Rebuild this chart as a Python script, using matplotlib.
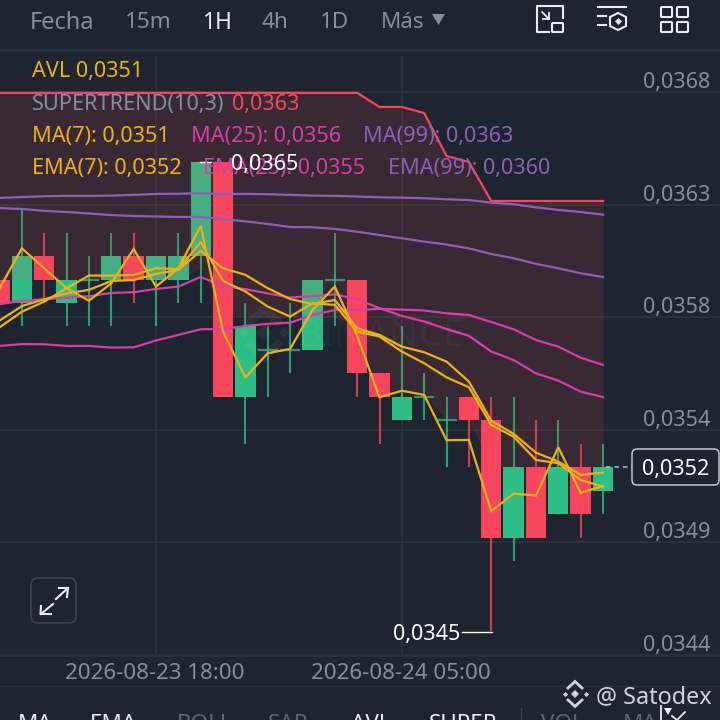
import numpy as np
import matplotlib
matplotlib.use("Agg")
import matplotlib.pyplot as plt
from matplotlib.patches import FancyBboxPatch, Polygon

# Candle data (1H)
opens = [0.0360, 0.0359, 0.0361, 0.0359, 0.0360, 0.0360, 0.0361, 0.0360, 0.0360, 0.0361, 0.0365, 0.0355, 0.0357, 0.0357,
         0.0357, 0.0360, 0.0360, 0.0356, 0.0354, 0.0355, 0.0354, 0.0355, 0.0354, 0.0349, 0.0352, 0.0350, 0.0352, 0.0351]
closes = [0.0359, 0.0361, 0.0360, 0.0360, 0.0360, 0.0361, 0.0360, 0.0361, 0.0361, 0.0365, 0.0355, 0.0358, 0.0357, 0.0357,
          0.0360, 0.0360, 0.0356, 0.0355, 0.0355, 0.0355, 0.0354, 0.0354, 0.0349, 0.0352, 0.0349, 0.0352, 0.0350, 0.0352]
highs = [0.0360, 0.0363, 0.0362, 0.0362, 0.0361, 0.0362, 0.0362, 0.0361, 0.0362, 0.0365, 0.0365, 0.0359, 0.0358, 0.0359,
         0.0360, 0.0362, 0.0360, 0.0356, 0.0358, 0.0356, 0.0355, 0.0355, 0.0355, 0.0355, 0.0354, 0.0354, 0.0353, 0.0353]
lows = [0.0359, 0.0358, 0.0359, 0.0358, 0.0358, 0.0358, 0.0359, 0.0358, 0.0359, 0.0359, 0.0355, 0.0353, 0.0355, 0.0356,
        0.0357, 0.0358, 0.0355, 0.0353, 0.0354, 0.0354, 0.0352, 0.0352, 0.0345, 0.0348, 0.0349, 0.0350, 0.0349, 0.0350]

# Indicators
avl = [359.63, 361.33, 360.48, 359.63, 359.10, 359.84, 361.30, 359.70, 360.48, 362.29, 357.78, 355.83, 356.86, 357.04,
       358.70, 359.70, 357.60, 354.98, 355.26, 355.08, 353.15, 353.16, 350.13, 350.87, 350.79, 352.85, 350.91, 351.20]
ema7 = [358.25, 358.87, 359.16, 359.41, 359.56, 359.94, 359.98, 360.24, 360.41, 361.22, 360.48, 360.20, 359.63, 359.17,
        358.96, 359.13, 357.92, 357.64, 357.14, 356.90, 356.50, 355.65, 353.98, 353.42, 352.62, 352.24, 351.67, 351.77]
ma7 = [357.96, 358.63, 359.06, 359.63, 360.17, 360.17, 360.20, 360.48, 360.45, 361.59, 359.94, 359.49, 358.85, 358.42,
       358.99, 358.92, 357.78, 357.57, 356.93, 356.43, 355.83, 355.41, 353.80, 353.30, 352.31, 352.17, 351.45, 351.17]
ma25 = [357.17, 357.25, 357.24, 357.17, 357.17, 357.10, 357.11, 357.40, 357.64, 357.88, 357.89, 358.02, 358.11, 358.16,
        358.49, 358.70, 358.70, 358.75, 358.72, 358.68, 358.56, 358.49, 358.19, 357.88, 357.42, 357.14, 356.67, 356.36]
ema25 = [358.95, 359.09, 359.16, 359.23, 359.29, 359.43, 359.46, 359.60, 359.70, 360.11, 359.73, 359.59, 359.41, 359.23,
         359.30, 359.37, 359.16, 358.78, 358.45, 358.21, 357.89, 357.60, 356.93, 356.57, 356.00, 355.69, 355.22, 354.99]
ma99 = [363.48, 363.52, 363.55, 363.57, 363.57, 363.58, 363.61, 363.65, 363.66, 363.68, 363.65, 363.65, 363.64, 363.61,
        363.58, 363.57, 363.54, 363.51, 363.49, 363.47, 363.42, 363.39, 363.28, 363.21, 363.08, 362.97, 362.88, 362.77]
ema99 = [363.05, 363.01, 362.93, 362.88, 362.82, 362.75, 362.71, 362.69, 362.67, 362.67, 362.58, 362.48, 362.37, 362.24,
         362.23, 362.16, 362.04, 361.90, 361.76, 361.62, 361.49, 361.33, 361.09, 360.91, 360.67, 360.48, 360.27, 360.11]
supertrend = [367.96] * 17 + [367.36, 367.36, 367.10, 365.27, 365.01] + [363.35] * 6
trend_base = [360.0, 360.0, 360.0, 360.0, 360.0, 360.0, 360.0, 360.0, 360.0, 360.5, 358.5, 358.4, 358.4, 358.4,
              358.4, 358.4, 358.0, 355.0, 355.2, 355.1, 354.0, 354.0, 352.0, 352.0, 352.0, 352.0, 352.0, 352.0]

grid_prices = [0.0368, 0.03632, 0.03584, 0.03536, 0.03488, 0.0344]
price_labels = ["0,0368", "0,0363", "0,0358", "0,0354", "0,0349", "0,0344"]
date_idx = [7, 18]
date_labels = ["2026-08-23 18:00", "2026-08-24 05:00"]

BG = "#1e2530"
GREEN = "#2ebd85"
RED = "#f6465d"
YELLOW = "#edb115"
PINK = "#d63fa6"
PURPLE = "#8e5fb8"
GREY = "#848e9c"
GRID = "#2e3541"
WHITE = "#eaecef"

plt.rcParams["font.family"] = ["Noto Sans", "DejaVu Sans"]

fig = plt.figure(figsize=(7.2, 7.2), dpi=100, facecolor=BG)
ax = fig.add_axes([0, 0, 1, 1], facecolor=BG)
ax.set_xlim(0.02, 32.235)
ax.set_ylim(0.034122, 0.037192)
ax.axis("off")

idx = np.arange(len(opens))
o, c, h, l = map(np.array, (opens, closes, highs, lows))
colors = [RED if cl < op else GREEN for op, cl in zip(o, c)]

# Grid
for p in grid_prices:
    ax.axhline(p, color=GRID, lw=1.1, zorder=1)
for i in date_idx:
    ax.plot([i, i], [0.0344, 0.03695], color=GRID, lw=1.1, zorder=1)

# Candles
ax.vlines(idx, l, h, colors=colors, lw=1.5, zorder=2, alpha=0.8)
body = np.abs(c - o)
ax.bar(idx, body, bottom=np.minimum(o, c), width=0.91, color=colors, zorder=3, lw=0)
for i in idx[body == 0]:
    ax.plot([i - 0.45, i + 0.45], [o[i], o[i]], color=GREEN, lw=1.6, alpha=0.75, zorder=3, solid_capstyle="butt")

# Supertrend
e4 = 1e-4
ax.fill_between(idx, np.array(supertrend) * e4, np.array(trend_base) * e4, color=RED, alpha=0.12, lw=0, zorder=4)
ax.plot(idx, np.array(supertrend) * e4, color=RED, lw=1.6, zorder=5)

# Indicator lines
for s, col in [(ma99, PURPLE), (ema99, PURPLE), (ma25, PINK), (ema25, PINK),
               (ma7, YELLOW), (ema7, YELLOW), (avl, YELLOW)]:
    ax.plot(idx, np.array(s) * e4, color=col, lw=1.6, zorder=6, solid_joinstyle="miter")

# Overlay in pixels for the app chrome
ov = fig.add_axes([0, 0, 1, 1], facecolor="none")
ov.set_xlim(0, 720)
ov.set_ylim(720, 0)
ov.axis("off")


def txt(x, y, s, col, size=15.6, ha="left", **kw):
    return ov.text(x, y, s, color=col, fontsize=size, ha=ha, va="center_baseline", **kw)


def logo(cx, cy, r, col, alpha=1.0, lw=2.0):
    # Small rhombus logo made of four chevrons round a centre dot
    k = r / 13.5
    for sgn in (-1, 1):
        ov.plot([cx - 7 * k, cx, cx + 7 * k], [cy + sgn * 6 * k, cy + sgn * 12.5 * k, cy + sgn * 6 * k],
                color=col, alpha=alpha, lw=lw, solid_joinstyle="miter")
        ov.plot([cx + sgn * 10.5 * k], [cy], "D", color=col, alpha=alpha, ms=2.6 * k, mew=0)
    ov.plot([cx], [cy], "D", color=col, alpha=alpha, ms=4.2 * k, mew=0)


# Watermark
txt(380, 331, "BINANCE", "#ffffff", size=28, ha="center", alpha=0.035, fontweight="bold")
logo(264, 333, 26, "#ffffff", alpha=0.05, lw=6)

# Top bar
for x, s, col, w, sz in [(30, "Fecha", GREY, "normal", 17), (125, "15m", GREY, "normal", 16.2),
                         (202, "1H", WHITE, "bold", 16.4), (262, "4h", GREY, "normal", 16.2),
                         (320, "1D", GREY, "normal", 16.2), (381, "Más", GREY, "normal", 16.2)]:
    txt(x, 20, s, col, size=sz, fontweight=w)
ov.add_patch(Polygon([(432, 14), (445, 14), (438.5, 25)], color=GREY, lw=0))
ov.plot([0, 720], [50, 50], color="#2a313c", lw=2)
ov.plot([0, 720], [655.5, 655.5], color="#2a313c", lw=1.4)
ov.plot([0, 720], [686, 686], color="#2a313c", lw=1)

# Icons
ov.plot([549, 537, 537, 563, 563], [32, 32, 6, 6, 18], color=WHITE, lw=1.5)
ov.add_patch(FancyBboxPatch((553, 24), 9, 7, boxstyle="round,pad=1", fc="none", ec=WHITE, lw=1.5))
ov.plot([542, 549], [12, 19], color=WHITE, lw=1.3)
ov.plot([543, 549, 549], [19, 19, 13], color=WHITE, lw=1.3)
ov.plot([598, 626], [7, 7], color=WHITE, lw=1.5)
ov.plot([598, 606], [16, 16], color=WHITE, lw=1.5)
ov.plot([598, 606], [25, 25], color=WHITE, lw=1.5)
ov.add_patch(Polygon([(618, 13), (626, 17), (626, 26), (618, 30), (610, 26), (610, 17)], fc="none", ec=WHITE, lw=1.5))
ov.plot([618], [21], "D", color=WHITE, ms=3.5, mew=0)
for x0 in (662, 678):
    for y0 in (8, 23):
        ov.add_patch(FancyBboxPatch((x0, y0), 9, 8, boxstyle="round,pad=1", fc="none", ec=WHITE, lw=1.5))

# Legend rows
txt(32, 69, "AVL 0,0351", YELLOW)
txt(32, 102, "SUPERTREND(10,3)", GREY)
txt(232, 102, "0,0363", RED)
txt(32, 134, "MA(7): 0,0351", YELLOW)
txt(191, 134, "MA(25): 0,0356", PINK)
txt(363, 134, "MA(99): 0,0363", PURPLE)
txt(32, 166, "EMA(7): 0,0352", YELLOW)
txt(203, 166, "EMA(25): 0,0355", PINK)
txt(388, 166, "EMA(99): 0,0360", PURPLE)

# Axis labels
for i, s in zip(grid_prices, price_labels):
    y = 92 + (0.0368 - i) / 1e-4 * 23.45
    txt(710, y - 12, s, GREY, ha="right")
for i, s in zip(date_idx, date_labels):
    txt(-1.35 + 22.35 * i, 671, s, GREY, size=16.1, ha="center")

# High / low marks
txt(231, 162, "0,0365", "#ffffff", size=15.6)
ov.plot([200, 211], [162, 162], color="#ffffff", lw=1)
txt(393, 632, "0,0345", "#ffffff", size=15.6)
ov.plot([462, 492], [631.5, 631.5], color="#ffffff", lw=1)

# Current price tag
ov.plot([606, 632], [467, 467], color="#b7bdc6", lw=1.1, ls=(0, (3, 2.5)))
ov.add_patch(FancyBboxPatch((637, 454), 77, 26, boxstyle="round,pad=5", fc=BG, ec="#c4c8ce", lw=1.1))
txt(675.5, 467, "0,0352", "#ffffff", ha="center")

# Expand button
ov.add_patch(FancyBboxPatch((38, 585), 31, 31, boxstyle="round,pad=7", fc="none", ec="#3a414d", lw=1.3))
ov.plot([56, 68], [599, 588], color=WHITE, lw=1.5)
ov.plot([59, 68, 67], [588, 588, 597], color=WHITE, lw=1.5)
ov.plot([53, 41], [604, 614], color=WHITE, lw=1.5)
ov.plot([41, 40.5, 51], [606, 614, 614], color=WHITE, lw=1.5)

# Bottom tabs (cut by the image edge)
for x, s, col, w in [(18, "MA", WHITE, "bold"), (90, "EMA", WHITE, "bold"), (177, "BOLL", "#5e6673", "normal"),
                     (268, "SAR", "#5e6673", "normal"), (351, "AVL", WHITE, "bold"), (429, "SUPER", WHITE, "bold"),
                     (541, "VOL", "#5e6673", "normal"), (623, "MA", "#5e6673", "normal")]:
    txt(x, 722, s, col, size=16.2, fontweight=w)
ov.plot([521, 521], [708, 720], color="#3a414d", lw=1)

# Satodex mark
logo(575, 694, 13.5, "#d0d3d8")
txt(596, 694, "@ Satodex", "#d0d3d8", size=16.8)
ov.plot([661, 661], [706, 720], color=WHITE, lw=1.3)
ov.add_patch(Polygon([(664, 708), (672, 708), (668, 715)], color=WHITE, lw=0))
ov.plot([672, 677, 685], [716, 720, 712], color=WHITE, lw=1.3)

fig.savefig("out.png", dpi=100, facecolor=BG)
